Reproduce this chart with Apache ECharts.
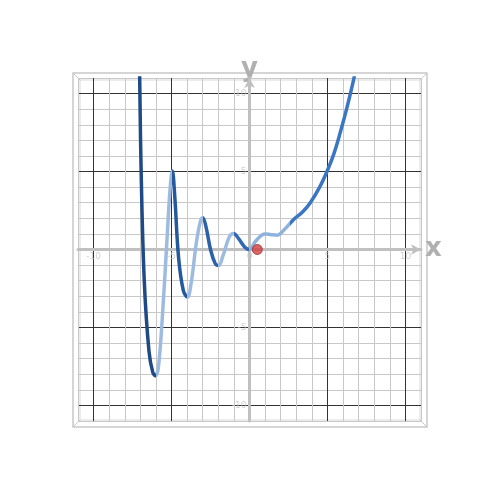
<!DOCTYPE html>
<html><head><meta charset="utf-8">
<script src="https://cdn.jsdelivr.net/npm/echarts@6/dist/echarts.min.js"></script>
<style>html,body{margin:0;padding:0;background:#fff}#c{width:500px;height:500px}</style>
</head><body><div id="c"></div>
<script>
const xs = [-7.05,-6.95,-6.75,-6.45,-6.2,-6.02,-5.85,-5.6,-5.3,-5.1,-4.95,-4.8,-4.55,-4.25,-3.98,-3.75,-3.4,-3.15,-3.0,-2.8,-2.5,-2.2,-1.99,-1.7,-1.3,-1.03,-0.7,-0.3,0,0.4,1.0,1.4,1.76,2.3,2.83,3.4,3.9,4.5,4.97,5.4,5.82,6.25,6.68,6.8];
const ys = [11.5,5,-2,-6.5,-7.9,-8.1,-7.6,-4.5,0.5,3.8,5.04,3.5,-0.5,-2.6,-3.05,-2.2,0.5,1.8,2.04,1.5,0,-0.9,-1.03,-0.4,0.8,1.03,0.7,0.15,0,0.55,1.0,0.95,0.92,1.35,1.93,2.4,3.0,4.0,5.0,6.1,7.5,9.1,10.9,11.5];
const point = [[0.5,0]];
const xTickLabels = [-10,-5,0,5,10];
const yTickLabels = [-10,-5,5,10];
const curve = xs.map((x,i)=>[x,ys[i]]);
const minorC='#c8c8c8', majorC='#333';
const chart = echarts.init(document.getElementById('c'));
function axis(name, isX){
  return {type:'value',min:-11,max:11,interval:1,name:name,nameLocation:'end',
    nameGap: isX?4:2,
    nameTextStyle:{color:'#b0b0b0',fontSize:26,fontFamily:'DejaVu Sans',fontWeight:'bold',
      padding: isX?[0,0,4,0]:[0,0,-6,0]},
    axisLine:{onZero:true,lineStyle:{color:'#c0c0c0',width:3},symbol:['none','arrow'],symbolSize:[8,10]},
    axisTick:{show:false},
    axisLabel:{show:false},
    splitLine:{show:true,lineStyle:{color:[minorC,majorC,minorC,minorC,minorC],width:1}}};
}
const lab = {show:true,color:'#c4c4c4',fontSize:9,fontFamily:'DejaVu Sans'};
chart.setOption({
  animation:false,
  grid:{left:78,right:79,top:78,bottom:79},
  xAxis:axis('x',true), yAxis:axis('y',false),
  visualMap:{show:false,type:'piecewise',dimension:0,seriesIndex:0,pieces:[
    {lt:-6,color:'#1e4a86'},{gte:-6,lt:-5,color:'#9dbbe0'},{gte:-5,lt:-4,color:'#24599e'},
    {gte:-4,lt:-3,color:'#9dbbe0'},{gte:-3,lt:-2,color:'#2b62aa'},{gte:-2,lt:-1,color:'#9dbbe0'},
    {gte:-1,lt:0,color:'#2f69b4'},{gte:0,lt:2.6,color:'#8fb2dc'},{gte:2.6,color:'#3a76c2'}]},
  graphic:[
    {type:'rect',shape:{x:73,y:73,width:354,height:354},style:{fill:'none',stroke:'#c8c8c8',lineWidth:1.5},z:-1},
    {type:'rect',shape:{x:80,y:80,width:340,height:340},style:{fill:'none',stroke:'#d8d8d8',lineWidth:1},z:-1},
    {type:'line',shape:{x1:73,y1:73,x2:80,y2:80},style:{stroke:'#c8c8c8'}},
    {type:'line',shape:{x1:427,y1:73,x2:420,y2:80},style:{stroke:'#c8c8c8'}},
    {type:'line',shape:{x1:73,y1:427,x2:80,y2:420},style:{stroke:'#c8c8c8'}},
    {type:'line',shape:{x1:427,y1:427,x2:420,y2:420},style:{stroke:'#c8c8c8'}}
  ],
  series:[
    {type:'line',data:curve,smooth:0.4,showSymbol:false,clip:true,lineStyle:{width:3.5},z:3},
    {type:'scatter',data:point,symbolSize:10,itemStyle:{color:'#d04040',borderColor:'#a02828',borderWidth:1},z:4},
    {type:'scatter',data:xTickLabels.map(v=>[v,0]),symbolSize:0,silent:true,
      label:Object.assign({},lab,{position:'bottom',distance:3,formatter:p=>String(p.value[0])}),z:2},
    {type:'scatter',data:yTickLabels.map(v=>[0,v]),symbolSize:0,silent:true,
      label:Object.assign({},lab,{position:'left',distance:3,formatter:p=>String(p.value[1])}),z:2}
  ]
});
</script></body></html>
